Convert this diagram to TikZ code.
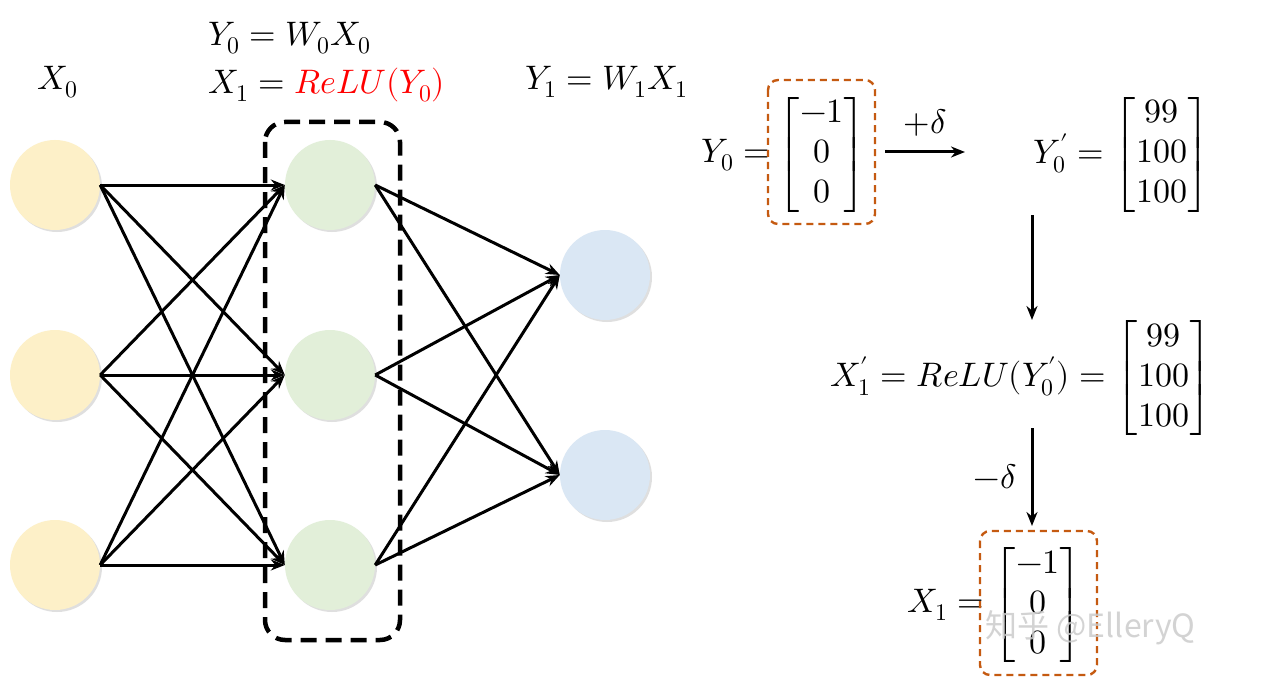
\documentclass[tikz,border=0pt]{standalone}
\usepackage{amsmath}
\usepackage{unicode-math}
\setmathfont{Latin Modern Math}
\newfontfamily\cjk{Noto Sans CJK SC}
\usetikzlibrary{arrows.meta,shadows}
\definecolor{yel}{HTML}{FDF0C8}
\definecolor{grn}{HTML}{E2EFD9}
\definecolor{blu}{HTML}{DAE7F4}
\definecolor{org}{HTML}{C55A11}
\begin{document}
\begin{tikzpicture}[x=1pt,y=-1pt,
  neu/.style={circle,minimum size=90pt,inner sep=0,draw=none,drop shadow={shadow xshift=2pt,shadow yshift=-2pt,opacity=0.25}},
  con/.style={-{Stealth[length=14pt,width=11pt]},line width=3pt},
  lab/.style={font=\fontsize{34}{40}\selectfont,inner sep=0},
  obox/.style={draw=org,line width=2.4pt,rounded corners=10pt,dash pattern=on 7pt off 5pt}]
\useasboundingbox (0,0) rectangle (1269,682);
\fill[white] (0,0) rectangle (1269,682);
\foreach \i/\y in {1/185,2/375,3/565}{
  \node[neu,fill=yel] (a\i) at (55,\y) {};
  \node[neu,fill=grn] (h\i) at (330,\y) {};}
\node[neu,fill=blu] (o1) at (605,275) {};
\node[neu,fill=blu] (o2) at (605,475) {};
\foreach \i in {1,2,3}{\foreach \j in {1,2,3}{\draw[con] (a\i.east) -- (h\j.west);}}
\foreach \i in {1,2,3}{\foreach \j in {1,2}{\draw[con] (h\i.east) -- (o\j.west);}}
\draw[line width=4.5pt,dash pattern=on 16pt off 9pt,rounded corners=20pt] (265,122) rectangle (400,640);
\node[lab] (tx0) at (58,82) {$X_0$};
\node[lab,anchor=west] (ty0) at (208,38) {$Y_0=W_0X_0$};
\node[lab,anchor=west] (tx1) at (208,85) {$X_1=\textcolor{red}{ReLU(Y_0)}$};
\node[lab,anchor=west] (ty1) at (525,82) {$Y_1=W_1X_1$};
% right
\node[lab,anchor=east] (ly0) at (770,155) {$Y_0=$};
\node[lab] (m1) at (822,155) {$\begin{bmatrix}-1\\0\\0\end{bmatrix}$};
\draw[obox] (768,80) rectangle (875,224);
\node[lab,anchor=east] (ly0p) at (1210,155) {$Y'_0=\begin{bmatrix}99\\100\\100\end{bmatrix}$};
\draw[con] (885,152) -- node[lab,above=14pt] {$+\delta$} (965,152);
\node[lab,anchor=east] (lx1p) at (1212,378) {$X'_1=ReLU(Y'_0)=\begin{bmatrix}99\\100\\100\end{bmatrix}$};
\coordinate (d1) at (1032,215); \coordinate (d2) at (1032,320);
\draw[con] (d1) -- (d2);
\coordinate (d3) at (1032,428); \coordinate (d4) at (1032,526);
\draw[con] (d3) -- node[lab,left=14pt] {$-\delta$} (d4);
\node[lab,anchor=east] (lx1) at (984,605) {$X_1=$};
\node[lab] (m2) at (1038,605) {$\begin{bmatrix}-1\\0\\0\end{bmatrix}$};
\draw[obox] (980,531) rectangle (1097,675);
\node[font=\cjk\fontsize{32}{38}\selectfont,text=gray!40,opacity=0.85,anchor=west] (wm) at (982,628) {知乎 @ElleryQ};
\end{tikzpicture}
\end{document}
